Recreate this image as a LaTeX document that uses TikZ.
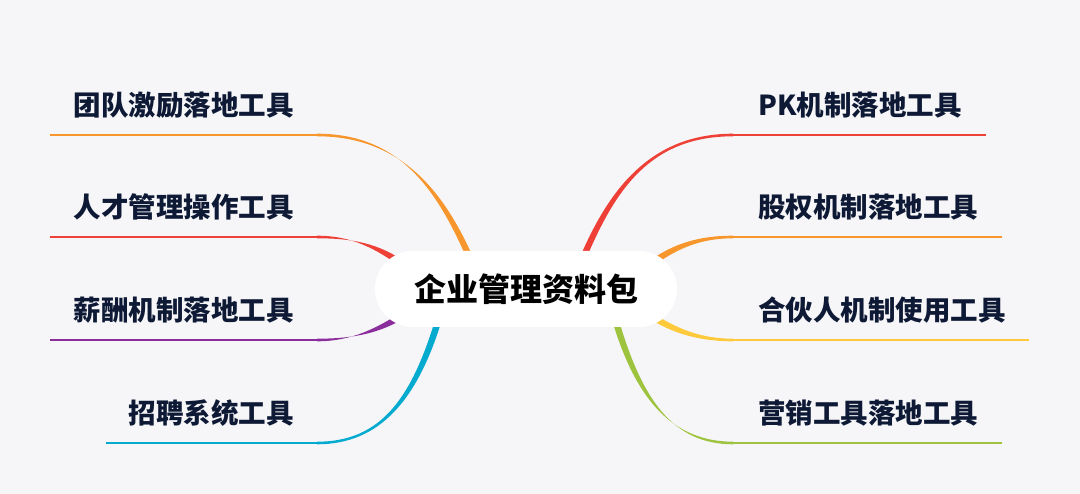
\documentclass[tikz,border=0pt]{standalone}
\usepackage{fontspec}
\setmainfont{Noto Sans CJK SC}
\usetikzlibrary{calc}
\definecolor{bgc}{HTML}{F6F6F9}
\definecolor{txt}{HTML}{0E1A35}
\definecolor{corange}{HTML}{F7962C}
\definecolor{cred}{HTML}{EE4036}
\definecolor{cpurple}{HTML}{8B2E9C}
\definecolor{ccyan}{HTML}{05AACF}
\definecolor{cyellow}{HTML}{FFC93C}
\definecolor{cgreen}{HTML}{9EC43F}
\tikzset{
  leaf/.style={inner sep=0pt, text=txt, font=\fontsize{27.5}{31}\selectfont\bfseries},
  hub/.style={fill=white, rounded corners=38, minimum width=302, minimum height=76, inner sep=0pt,
    font=\fontsize{32}{36}\selectfont\bfseries, text=black},
  uline/.style={line width=2.6}
}
% #1 start, #2 c1, #3 c2, #4 end, #5 end offset (half width), #6 colour
\newcommand{\taperlink}[6]{%
  \fill[#6] ($(#1)+(0,-1.3)$) .. controls ($(#2)+(0,-1.3)$) and ($(#3)-#5$) .. ($(#4)-#5$)
    -- ($(#4)+#5$) .. controls ($(#3)+#5$) and ($(#2)+(0,1.3)$) .. ($(#1)+(0,1.3)$) -- cycle;}
\begin{document}
\begin{tikzpicture}[x=1pt,y=-1pt]
\fill[bgc] (0,0) rectangle (1080,494);
\useasboundingbox (0,0) rectangle (1080,494);

% left underline ends
\coordinate (L1s) at (50,135);  \coordinate (L1e) at (317,135);
\coordinate (L2s) at (50,237);  \coordinate (L2e) at (317,237);
\coordinate (L3s) at (50,340);  \coordinate (L3e) at (317,340);
\coordinate (L4s) at (106,443); \coordinate (L4e) at (317,443);
% right underline ends
\coordinate (R1s) at (733,135); \coordinate (R1e) at (986,135);
\coordinate (R2s) at (733,237); \coordinate (R2e) at (1002,237);
\coordinate (R3s) at (733,340); \coordinate (R3e) at (1029,340);
\coordinate (R4s) at (733,443); \coordinate (R4e) at (1002,443);
% hub attach points
\coordinate (H1) at (470,258);
\coordinate (H2) at (405,266);
\coordinate (H3) at (405,314);
\coordinate (H4) at (440,315);
\coordinate (K1) at (583,258);
\coordinate (K2) at (648,266);
\coordinate (K3) at (648,314);
\coordinate (K4) at (614,315);

% underlines
\draw[uline,corange] (L1s) -- (L1e);
\draw[uline,cred] (L2s) -- (L2e);
\draw[uline,cpurple] (L3s) -- (L3e);
\draw[uline,ccyan] (L4s) -- (L4e);
\draw[uline,cred] (R1s) -- (R1e);
\draw[uline,corange] (R2s) -- (R2e);
\draw[uline,cyellow] (R3s) -- (R3e);
\draw[uline,cgreen] (R4s) -- (R4e);

% tapered links
\taperlink{L1e}{400,135}{440,190}{H1}{(3.4,0)}{corange}
\taperlink{L2e}{352,237}{378,246}{H2}{(1.6,-2.8)}{cred}
\taperlink{L3e}{352,340}{378,331}{H3}{(-1.6,-2.8)}{cpurple}
\taperlink{L4e}{380,443}{415,400}{H4}{(3.4,0)}{ccyan}
\taperlink{R1s}{650,135}{612,190}{K1}{(3.4,0)}{cred}
\taperlink{R2s}{700,237}{674,246}{K2}{(1.6,2.8)}{corange}
\taperlink{R3s}{700,340}{674,331}{K3}{(-1.6,2.8)}{cyellow}
\taperlink{R4s}{673,443}{638,400}{K4}{(3.4,0)}{cgreen}

% hub
\node[hub] (hub) at (526,289) {企业管理资料包};

% leaves
\node[leaf, anchor=east] (t1) at (294,105) {团队激励落地工具};
\node[leaf, anchor=east] (t2) at (294,207) {人才管理操作工具};
\node[leaf, anchor=east] (t3) at (294,310) {薪酬机制落地工具};
\node[leaf, anchor=east] (t4) at (294,413) {招聘系统工具};
\node[leaf, anchor=west] (r1) at (758,105) {PK机制落地工具};
\node[leaf, anchor=west] (r2) at (758,207) {股权机制落地工具};
\node[leaf, anchor=west] (r3) at (758,310) {合伙人机制使用工具};
\node[leaf, anchor=west] (r4) at (758,413) {营销工具落地工具};
\end{tikzpicture}
\end{document}
